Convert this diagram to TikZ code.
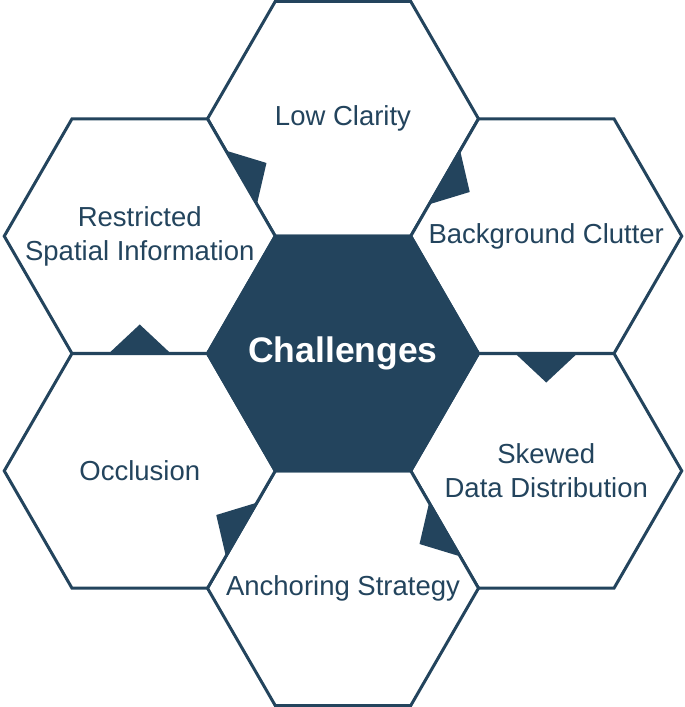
\documentclass[tikz,border=0pt]{standalone}
\usepackage{fontspec}
\setmainfont{Liberation Sans}
\usetikzlibrary{shapes.geometric}

\definecolor{hexblue}{HTML}{23445D}

\tikzset{
  hexcell/.style={regular polygon, regular polygon sides=6, minimum size=271pt,
    inner sep=0pt, outer sep=0pt, draw=hexblue, line width=3pt},
  celltext/.style={text=hexblue, align=center, font=\fontsize{27.5}{34}\selectfont},
  hubtext/.style={text=white, font=\bfseries\fontsize{35.5}{42}\selectfont},
}

\begin{document}
\begin{tikzpicture}[x=1pt,y=1pt]
  \def\R{135.5}
  \useasboundingbox (-343,-353.5) rectangle (342,353.5);

  % ring of cells, clockwise from the top
  \node[hexcell, fill=white, label={[celltext]center:Low Clarity}] (clarity) at (90:234.7) {};
  \node[hexcell, fill=white, label={[celltext]center:Background Clutter}] (clutter) at (30:234.7) {};
  \node[hexcell, fill=white, label={[celltext]center:Skewed\\Data Distribution}] (skewed) at (-30:234.7) {};
  \node[hexcell, fill=white, label={[celltext]center:Anchoring Strategy}] (anchoring) at (-90:234.7) {};
  \node[hexcell, fill=white, label={[celltext]center:Occlusion}] (occlusion) at (-150:234.7) {};
  \node[hexcell, fill=white, label={[celltext]center:Restricted\\Spatial Information}] (spatial) at (150:234.7) {};

  % centre cell
  \node[hexcell, fill=hexblue, label={[hubtext]center:Challenges}] (challenges) at (0,0) {};

  % pointers on the shared edges
  \foreach \a in {0,60,...,300}
    \fill[hexblue, rotate=\a] ({1.5*\R-31},0) -- ({1.5*\R+31},0) -- ({1.5*\R},-29) -- cycle;
\end{tikzpicture}
\end{document}
